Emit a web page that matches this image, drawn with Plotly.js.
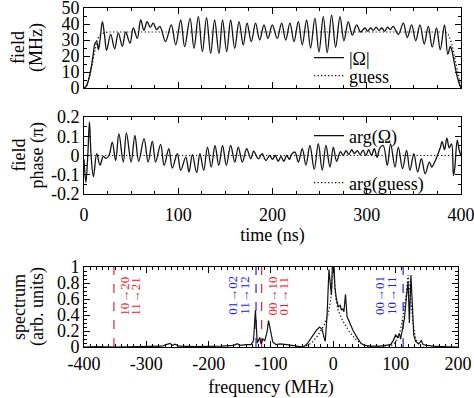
<!DOCTYPE html>
<html><head><meta charset="utf-8">
<script src="https://cdn.plot.ly/plotly-3.0.1.min.js"></script>
<style>html,body{margin:0;padding:0;background:#fff}#chart{width:474px;height:398px}</style>
</head><body><div id="chart"></div>
<script>
// ---------- data ----------
const omegaTime = [0,2,4,6,8,10,11.7,13.5,15.3,17,19.5,21.8,24,28.3,32.5,36.4,40.7,44.2,48.8,52.3,56.6,60.1,63.6,67,70.2,73.5,77,80.5,86.5,92.6,97.3,102.6,106.8,112.5,116.7,121.3,125.6,130,134.4,138.6,143.2,147,151.4,155.6,159.9,164.5,169,173,177.5,182,186.4,191,195.2,199.8,205,209.7,214,218.5,222.8,227.4,231.6,236.2,240.4,245,249.3,253.9,258,262.7,267,271.6,275.8,280.4,284.7,289.3,293.5,298,301,304,307,310,313,316,319,322,325,328,333.5,338.8,343,347.6,352,356.5,361,365.3,369.5,374,378,382.5,386,388.7,390.5,392.5,394.5,396.5,398.5,400];
const omegaAbs  = [0,0.8,3.5,8,14,22,28,29,24,30,41.5,33,23.5,33.5,24.5,34.5,26,35,28,37.5,31,42.5,36,41.5,38,40.5,36.5,38.5,29,39.5,27,42.5,25.8,43.5,24.8,44.6,22.7,44,21.6,42.5,21.6,42.5,22.7,42.5,24.8,41.5,26.9,40.5,29,40.5,30,39.5,31,39.5,31,40.5,30,40.5,29,41.5,27,42.5,25,43.5,22.5,44.6,22,45.6,25.5,44.6,29.5,41.5,33,39.5,35,37.5,35.5,37.5,36,38,36,37.5,35.5,38,36.5,38.5,33.5,40.5,31.5,39.5,29.5,39.5,27.5,38.5,25.5,37.5,24,39.5,21,26,23,17,11,6,2,0];
const guessTime = [0,3,6,8,10,12,14,17,21,26,384,387,390,393,396,398,400];
const guessAbs  = [0,1.5,7,13,20.5,26.5,30.5,33,34.5,35,35,33,28,20,11,5,0];

const phaseTime = [0,2,4,5.8,7.5,10,13.5,17,20.5,23.3,26.5,30,33.6,37,41.7,45,50,54,58,63.7,68,72.5,76,81.3,85,90,93.7,99,102.6,108,111.4,115,119.5,123,127,131,135,139,143,147,151,155.6,160,163.7,168,172.6,177,180,185,189,193,197,200,203,206,209,212,215,218,220,223.8,227.4,231.6,235.5,239.7,244.3,248.6,252.8,256.7,261,264.5,268,272,275,278,281,284,287,290,293,296,299,302,305,308,311,314,317.5,321.8,325.3,330,333.5,338,342.3,345.8,350,354,358,362,366.4,369,372,375,378,380,382.5,385,387.5,390,392,393.5,396,398,400];
const argOmega  = [-0.02,-0.14,0.0,0.175,0.0,-0.11,0.01,-0.05,-0.005,-0.015,0.0,0.07,-0.026,0.113,-0.034,0.118,-0.034,0.105,-0.03,0.088,-0.034,0.074,-0.034,0.058,-0.051,0.035,-0.065,0.009,-0.077,-0.008,-0.086,0.004,-0.089,0.009,-0.077,0.044,-0.06,0.052,-0.051,0.052,-0.051,0.052,-0.034,0.044,-0.034,0.035,-0.017,0.022,-0.017,0.009,-0.026,0.0,-0.02,0.0,-0.03,-0.005,-0.03,0.0,-0.02,0.005,0.018,-0.034,0.035,-0.05,0.052,-0.072,0.061,-0.077,0.052,-0.06,0.044,-0.03,0.02,0.0,0.025,0.005,0.03,0.01,0.025,0.005,0.028,0.0,0.03,0.0,0.035,-0.01,0.04,0.052,-0.051,0.06,-0.06,0.044,-0.068,0.027,-0.077,0.009,-0.086,-0.017,-0.095,-0.034,-0.06,-0.035,0.0,0.04,0.072,0.03,0.09,0.04,0.06,-0.105,-0.06,0.08,0.03,0.0];
const guessPhaseTime = [0,400];
const argGuess  = [0,0];

const specFreq = [-400,-380,-350,-300,-275,-268,-262,-258,-254,-248,-220,-180,-160,-154,-150,-140,-132,-128,-125,-122,-120,-118,-116,-113,-110,-106,-104,-101,-97,-92,-85,-75,-65,-55,-48,-42,-37,-32,-27,-22,-18,-15,-13,-10,-7,-5,-3,-1.5,1,2.5,5,8,11,13,15,17,19.5,22,26,32,38,44,50,60,75,85,92,96,100,103,106,108,111,114,117,120,122,124.5,127,129,132,137,141,144,150,160,175,200];
const specOmega = [0,0.005,0,0.005,0.01,0.03,0.045,0.02,0.035,0.01,0.005,0.01,0.02,0.04,0.02,0.03,0.03,0.08,0.46,0.05,0.1,0.12,0.04,0.1,0.08,0.2,0.33,0.2,0.06,0.03,0.04,0.03,0.02,0.01,0,0.04,0.1,0.16,0.21,0.25,0.22,0.12,0.07,0.4,0.97,0.8,0.65,1.05,1.05,0.75,0.6,0.5,0.52,0.46,0.48,0.44,0.66,0.38,0.3,0.2,0.12,0.05,0.02,0.01,0.01,0.02,0.03,0.08,0.15,0.12,0.17,0.1,0.25,0.35,0.6,0.82,0.3,0.9,0.5,0.15,0.07,0.04,0.08,0.03,0.02,0.01,0.005,0];
const guessSpecFreq = [-60,-50,-45,-35,-25,-15,-8,-4,0,4,8,15,25,35,45,55,65,90,100,105,110,113,116,120,124,128,132,138,145];
const specGuess = [0,0,0.005,0.05,0.14,0.27,0.42,0.6,1.0,0.6,0.45,0.33,0.2,0.1,0.04,0.01,0,0,0.06,0.13,0.3,0.45,0.6,0.9,0.6,0.3,0.1,0.02,0];

const transFreq   = [-352,-124,-115,112];
const transQubit  = [1,2,1,2];
const transLine1  = ['10\u219220','01\u219202','00\u219210','00\u219201'];
const transLine2  = ['11\u219221','11\u219212','01\u219211','10\u219211'];

// tick labels
const fieldTicks = [0,10,20,30,40,50];
const fieldTickText = ['0','10','20','30','40','50'];
const timeTicks = [0,100,200,300,400];
const timeTickText = ['0','100','200','300','400'];
const phaseTicks = [-0.2,-0.1,0,0.1,0.2];
const phaseTickText = ['-0.2','-0.1','0','0.1','0.2'];
const freqTicks = [-400,-300,-200,-100,0,100,200];
const freqTickText = ['-400','-300','-200','-100','0','100','200'];
const specTicks = [0,0.2,0.4,0.6,0.8,1];
const specTickText = ['0','0.2','0.4','0.6','0.8','1'];

const yTitles = [['field','(MHz)'], ['field','phase (\u03C0)'], ['spectrum','(arb. units)']];

// ---------- styles ----------
const FONT = '"Liberation Serif","Times New Roman",serif';
const qubitColor = {1:'#e8202a', 2:'#2020e0'};
const qubitShift = {1:[11,22], 2:[-23,-11]};
const black = '#111';

const axBase = {showline:true, linecolor:'#000', linewidth:1, mirror:'allticks',
  ticks:'inside', ticklen:6, tickwidth:1, tickcolor:'#000', showgrid:false, zeroline:false,
  tickmode:'array', ticklabeloverflow:'allow',
  tickfont:{family:FONT,size:18,color:'#000'},
  minor:{ticks:'inside', ticklen:3, tickwidth:1, tickcolor:'#000', showgrid:false, tickmode:'linear'}};
function ax(extra){ const o = JSON.parse(JSON.stringify(axBase)); return Object.assign(o, extra, {minor:Object.assign({}, axBase.minor, extra.minor||{})}); }

const dotted = '1.3px,2.2px';
const traces = [
  {x:omegaTime, y:omegaAbs, xaxis:'x', yaxis:'y', mode:'lines', name:'|\u03A9|', legend:'legend',
   line:{color:black, width:1.3, shape:'spline', smoothing:1}},
  {x:guessTime, y:guessAbs, xaxis:'x', yaxis:'y', mode:'lines', name:'guess', legend:'legend2',
   line:{color:black, width:1.2, dash:dotted}},
  {x:guessPhaseTime, y:argGuess, xaxis:'x2', yaxis:'y2', mode:'lines', name:'arg(guess)', legend:'legend4',
   line:{color:black, width:1.2, dash:dotted}},
  {x:phaseTime, y:argOmega, xaxis:'x2', yaxis:'y2', mode:'lines', name:'arg(\u03A9)', legend:'legend3',
   line:{color:black, width:1.3, shape:'spline', smoothing:1}}
];
const annotations = [];
transFreq.forEach((f,i)=>{
  const q = transQubit[i];
  traces.push({x:[f,f], y:[0,1], xaxis:'x3', yaxis:'y3', mode:'lines', showlegend:false, hoverinfo:'skip',
    line:{color:qubitColor[q], width:1.2, dash:'dash'}});
  [transLine1[i], transLine2[i]].forEach((txt,k)=>{
    annotations.push({text:txt, xref:'x3', yref:'y3', x:f, y:0.64, xshift:qubitShift[q][k],
      showarrow:false, textangle:-90, font:{family:FONT, size:13, color:qubitColor[q]}});
  });
});
traces.push({x:guessSpecFreq, y:specGuess, xaxis:'x3', yaxis:'y3', mode:'lines', showlegend:false,
  line:{color:black, width:1.2, dash:dotted}});
traces.push({x:specFreq, y:specOmega, xaxis:'x3', yaxis:'y3', mode:'lines', showlegend:false,
  line:{color:black, width:1.2}});

const py = px => (347-px)/339;
const pxX = px => (px-84)/377;
// y-axis titles (two lines each, rotated)
const panelCenters = [48, 155.5, 307];
const lineX = [[18,36],[18,37],[19,37]];
yTitles.forEach((lines,p)=>{
  lines.forEach((txt,k)=>{
    annotations.push({text:txt, xref:'paper', yref:'paper', x:pxX(lineX[p][k]), y:py(panelCenters[p]),
      xanchor:'center', yanchor:'middle', showarrow:false, textangle:-90,
      font:{family:FONT, size:18, color:'#000'}});
  });
});

const legBase = {xref:'paper', yref:'paper', xanchor:'left', yanchor:'middle', bgcolor:'rgba(0,0,0,0)',
  font:{family:FONT, size:18, color:'#000'}, borderwidth:0, tracegroupgap:0};
const lx = pxX(309);

const layout = {
  width:474, height:398, margin:{l:84, r:13, t:8, b:51},
  paper_bgcolor:'#fff', plot_bgcolor:'#fff',
  font:{family:FONT, size:18, color:'#000'},
  showlegend:true,
  legend:  Object.assign({}, legBase, {x:lx, y:py(58)}),
  legend2: Object.assign({}, legBase, {x:lx, y:py(76)}),
  legend3: Object.assign({}, legBase, {x:lx, y:py(136)}),
  legend4: Object.assign({}, legBase, {x:lx, y:py(183)}),
  xaxis: ax({domain:[0,1], anchor:'y', range:[0,400], tickvals:timeTicks, ticktext:timeTickText, showticklabels:false, minor:{dtick:25, tick0:0}}),
  yaxis: ax({domain:[py(88),1], anchor:'x', range:[0,50], tickvals:fieldTicks, ticktext:fieldTickText, minor:{dtick:5, tick0:0}}),
  xaxis2: ax({domain:[0,1], anchor:'y2', range:[0,400], tickvals:timeTicks, ticktext:timeTickText, minor:{dtick:25, tick0:0}, ticklabelstandoff:4,
    title:{text:'time (ns)', font:{family:FONT,size:18}, standoff:4}}),
  yaxis2: ax({domain:[py(194),py(117)], anchor:'x2', range:[-0.2,0.2], tickvals:phaseTicks, ticktext:phaseTickText, minor:{dtick:0.05, tick0:0}}),
  xaxis3: ax({domain:[0,0.992], anchor:'y3', range:[-400,200], tickvals:freqTicks, ticktext:freqTickText, minor:{dtick:10, tick0:0},
    title:{text:'frequency (MHz)', font:{family:FONT,size:18}, standoff:8}}),
  yaxis3: ax({domain:[0,py(267)], anchor:'x3', range:[0,1], tickvals:specTicks, ticktext:specTickText, minor:{dtick:0.05, tick0:0}}),
  annotations: annotations
};
Plotly.newPlot('chart', traces, layout, {displayModeBar:false, staticPlot:true});
</script>
</body></html>
